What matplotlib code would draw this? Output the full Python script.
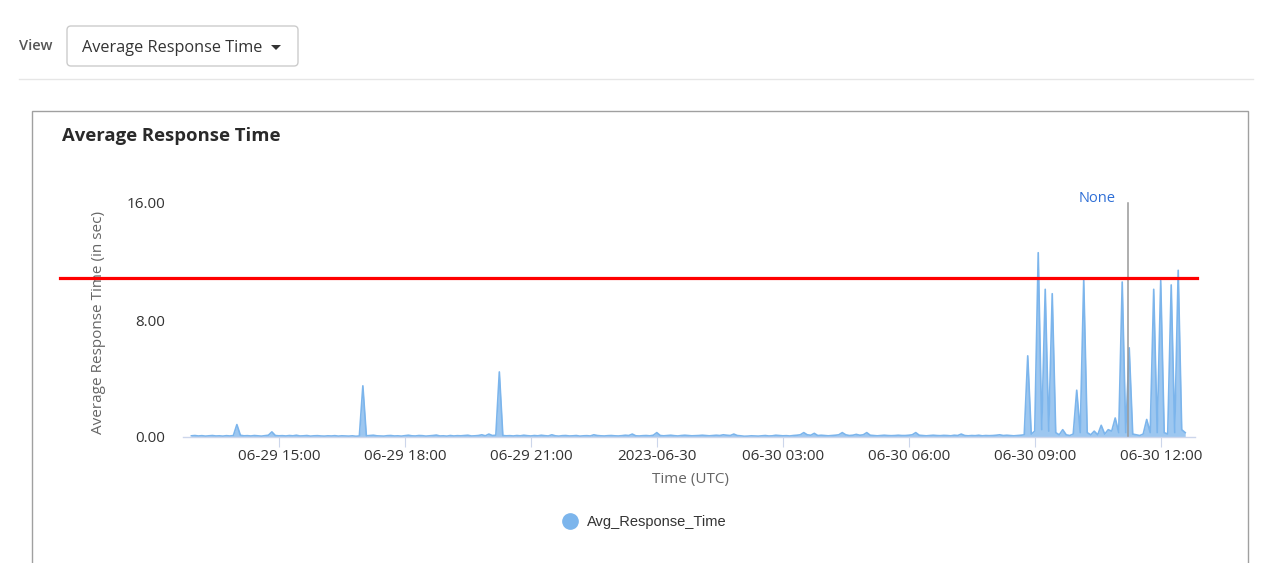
import matplotlib
matplotlib.use("Agg")
import matplotlib.pyplot as plt
from matplotlib.patches import FancyBboxPatch, Rectangle, Polygon
from matplotlib.lines import Line2D
from matplotlib.transforms import IdentityTransform
import pandas as pd

# ---------------- data ----------------
START = "2023-06-29 12:55"
STEP = "5min"
avg_response_time = [
    0.08, 0.10, 0.07, 0.09, 0.06, 0.08, 0.10, 0.07, 0.08, 0.06, 0.09, 0.07,
    0.10, 0.85, 0.12, 0.08, 0.09, 0.07, 0.10, 0.08, 0.06, 0.09, 0.12, 0.35,
    0.10, 0.08, 0.09, 0.07, 0.10, 0.08, 0.12, 0.07, 0.08, 0.10, 0.06, 0.08,
    0.09, 0.07, 0.06, 0.08, 0.07, 0.09, 0.06, 0.08, 0.07, 0.06, 0.08, 0.05,
    0.07, 3.50, 0.08, 0.10, 0.12, 0.08, 0.07, 0.06, 0.09, 0.10, 0.07, 0.08,
    0.06, 0.09, 0.12, 0.08, 0.07, 0.10, 0.09, 0.06, 0.08, 0.10, 0.13, 0.07,
    0.08, 0.06, 0.10, 0.07, 0.09, 0.08, 0.10, 0.12, 0.07, 0.08, 0.10, 0.15,
    0.08, 0.20, 0.10, 0.12, 4.45, 0.10, 0.08, 0.09, 0.07, 0.10, 0.08, 0.12,
    0.09, 0.07, 0.10, 0.08, 0.12, 0.09, 0.07, 0.15, 0.08, 0.06, 0.09, 0.10,
    0.07, 0.08, 0.10, 0.06, 0.08, 0.09, 0.07, 0.15, 0.10, 0.08, 0.07, 0.09,
    0.10, 0.08, 0.07, 0.09, 0.12, 0.10, 0.20, 0.08, 0.07, 0.09, 0.10, 0.08,
    0.12, 0.30, 0.10, 0.08, 0.10, 0.12, 0.09, 0.07, 0.10, 0.12, 0.10, 0.08,
    0.09, 0.10, 0.12, 0.10, 0.08, 0.10, 0.12, 0.10, 0.15, 0.12, 0.10, 0.20,
    0.10, 0.08, 0.05, 0.06, 0.08, 0.07, 0.06, 0.08, 0.10, 0.07, 0.08, 0.12,
    0.10, 0.08, 0.09, 0.07, 0.10, 0.12, 0.15, 0.30, 0.15, 0.12, 0.25, 0.10,
    0.12, 0.10, 0.08, 0.10, 0.12, 0.15, 0.30, 0.15, 0.10, 0.12, 0.18, 0.12,
    0.15, 0.30, 0.12, 0.10, 0.08, 0.10, 0.12, 0.10, 0.09, 0.10, 0.12, 0.10,
    0.10, 0.12, 0.15, 0.30, 0.12, 0.10, 0.08, 0.10, 0.12, 0.10, 0.09, 0.11,
    0.10, 0.08, 0.12, 0.10, 0.20, 0.10, 0.08, 0.10, 0.09, 0.12, 0.08, 0.10,
    0.09, 0.10, 0.12, 0.15, 0.10, 0.12, 0.10, 0.08, 0.10, 0.12, 0.15, 5.55,
    0.20, 0.40, 12.60, 0.50, 10.10, 0.40, 9.80, 0.30, 0.15, 0.50, 0.15, 0.10,
    0.20, 3.20, 0.30, 10.75, 0.30, 0.15, 0.40, 0.15, 0.80, 0.20, 0.50, 0.40,
    1.30, 0.30, 10.60, 0.30, 6.10, 0.20, 0.15, 0.10, 0.20, 1.20, 0.30, 10.10,
    0.30, 10.70, 0.30, 0.20, 10.40, 0.30, 11.40, 0.50, 0.30,
]
times = pd.date_range(START, periods=len(avg_response_time), freq=STEP)

x_range = ["2023-06-29 12:43", "2023-06-30 12:49"]
y_ticks = [0.0, 8.0, 16.0]
x_tick_times = ["2023-06-29 15:00", "2023-06-29 18:00", "2023-06-29 21:00",
                "2023-06-30 00:00", "2023-06-30 03:00", "2023-06-30 06:00",
                "2023-06-30 09:00", "2023-06-30 12:00"]
x_tick_labels = ["06-29 15:00", "06-29 18:00", "06-29 21:00", "2023-06-30",
                 "06-30 03:00", "06-30 06:00", "06-30 09:00", "06-30 12:00"]
threshold = 10.9
hover_time = "2023-06-30 11:13"
hover_label = "None"

# ---------------- figure ----------------
W, H = 1280, 563
DPI = 100
fig = plt.figure(figsize=(W / DPI, H / DPI), dpi=DPI)
fig.patch.set_facecolor("white")
FONT = "Open Sans"
AXFS = 11

def fx(px):
    return px / W

def fy(py):
    return 1 - py / H

ident = IdentityTransform()

# View selector
fig.text(fx(19), fy(45.5), "View", fontsize=10.5, color="#555555",
         family=FONT, fontweight="semibold", va="center", ha="left")
box = FancyBboxPatch((67, H - 66), 231, 40,
                     boxstyle="round,pad=0,rounding_size=4",
                     transform=ident, facecolor="white", edgecolor="#cccccc",
                     linewidth=1, zorder=-10)
fig.add_artist(box)
fig.text(fx(82), fy(47.5), "Average Response Time", fontsize=11.7,
         color="#333333", family=FONT, va="center", ha="left")
caret = Polygon([[271, H - 45], [281, H - 45], [276, H - 50]], closed=True,
                transform=ident, facecolor="#333333", edgecolor="none")
fig.add_artist(caret)

# separator
fig.add_artist(Line2D([fx(19), fx(1253)], [fy(79), fy(79)],
                      transform=fig.transFigure, color="#e6e6e6", lw=1,
                      zorder=-10))

# card
card = Rectangle((31.5, -5), 1216, H - 110.5 + 5, transform=ident,
                 facecolor="white", edgecolor="#a0a0a0", linewidth=1,
                 zorder=-10)
fig.add_artist(card)
fig.text(fx(62), fy(136), "Average Response Time", fontsize=13.3,
         fontweight="bold", color="#2a2a2a", family=FONT,
         va="center", ha="left")

# axes
ax_l, ax_r, ax_t, ax_b = 183, 1195, 203, 437
ax = fig.add_axes([fx(ax_l), fy(ax_b), fx(ax_r - ax_l), (ax_b - ax_t) / H])
ax.set_zorder(2)
ax.set_facecolor("none")
ax.fill_between(times, avg_response_time, 0, color="#7cb5ec", alpha=0.75,
                linewidth=0)
ax.plot(times, avg_response_time, color="#7cb5ec", lw=1.2)

ax.set_xlim(pd.to_datetime(x_range[0]), pd.to_datetime(x_range[1]))
ax.set_ylim(0, 16)

for s in ["top", "right", "left"]:
    ax.spines[s].set_visible(False)
ax.spines["bottom"].set_color("#ccd6eb")
ax.spines["bottom"].set_linewidth(1)

ax.set_xticks(pd.to_datetime(x_tick_times))
ax.set_xticklabels(x_tick_labels)
ax.tick_params(axis="x", direction="out", length=7.5, width=0.8,
               color="#ccd6eb", pad=1.0, labelsize=AXFS, labelcolor="#333333")
ax.set_yticks(y_ticks)
ax.set_yticklabels([f"{v:.2f}" for v in y_ticks])
ax.tick_params(axis="y", length=0, pad=13, labelsize=AXFS,
               labelcolor="#333333")
for lab in ax.get_xticklabels() + ax.get_yticklabels():
    lab.set_family(FONT)

ax.set_ylabel("Average Response Time (in sec)", fontsize=AXFS,
              color="#666666", family=FONT)
ax.yaxis.set_label_coords((106 - ax_l) / (ax_r - ax_l), 0.49)
ax.text(0.501, (ax_b - 479) / (ax_b - ax_t), "Time (UTC)",
        transform=ax.transAxes, fontsize=AXFS, color="#666666", family=FONT,
        ha="center", va="center")

# hover crosshair
ht = pd.to_datetime(hover_time)
ax.plot([ht, ht], [0, 16], color="#999999", lw=1.1, clip_on=False)
ax.annotate(hover_label, xy=(ht, 16), xytext=(-31, 5),
            textcoords="offset pixels", ha="center", va="center",
            fontsize=10.5, color="#2f6fd6", family=FONT,
            annotation_clip=False)

# threshold line
ax.axhline(threshold, xmin=(60 - ax_l) / (ax_r - ax_l),
           xmax=(1197 - ax_l) / (ax_r - ax_l), color="#ff0000", lw=2.3,
           clip_on=False, zorder=5)

# legend
handle = Line2D([], [], marker="o", linestyle="none", markersize=11,
                markerfacecolor="#7cb5ec", markeredgecolor="#7cb5ec")
leg = fig.legend([handle], ["Avg_Response_Time"], loc="center",
                 bbox_to_anchor=(fx(641), fy(522)), frameon=False,
                 handletextpad=0.1, prop={"family": "Liberation Sans",
                                          "size": 10.5})
for t in leg.get_texts():
    t.set_color("#333333")

fig.savefig("out.png", dpi=DPI, facecolor="white")
